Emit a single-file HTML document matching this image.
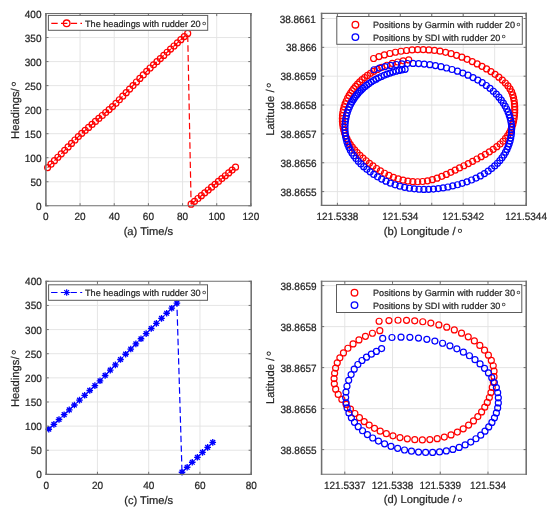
<!DOCTYPE html>
<html><head><meta charset="utf-8"><title>Headings and positions</title>
<style>
html,body{margin:0;padding:0;background:#fff;width:550px;height:512px;overflow:hidden}
svg{display:block}
text{font-family:"Liberation Sans",Arial,Helvetica,sans-serif;fill:#262626;stroke:#262626;stroke-width:0.22px;text-rendering:geometricPrecision}
</style></head><body>
<svg width="550" height="512" viewBox="0 0 550 512">
<rect width="550" height="512" fill="#fff"/>
<path d="M80.07 13.5V205.8M114.23 13.5V205.8M148.4 13.5V205.8M182.57 13.5V205.8M216.73 13.5V205.8M45.9 181.76H250.9M45.9 157.73H250.9M45.9 133.69H250.9M45.9 109.65H250.9M45.9 85.61H250.9M45.9 61.58H250.9M45.9 37.54H250.9" stroke="#e2e2e2" stroke-width="0.9" fill="none"/>
<path d="M47.61 167.58 L51.02 164.13 L54.44 160.69 L57.86 157.24 L61.27 153.8 L64.69 150.35 L68.11 146.9 L71.53 143.46 L74.94 140.01 L78.36 136.56 L81.78 133.35 L85.19 130.38 L88.61 127.4 L92.03 124.43 L95.44 121.45 L98.86 118.47 L102.28 115.5 L105.69 112.52 L109.11 109.55 L112.53 106.57 L115.94 103.31 L119.36 99.75 L122.78 96.2 L126.19 92.65 L129.61 89.1 L133.03 85.54 L136.44 81.99 L139.86 78.44 L143.28 74.88 L146.69 71.33 L150.11 67.98 L153.53 64.84 L156.94 61.7 L160.36 58.55 L163.78 55.41 L167.19 52.27 L170.61 49.12 L174.03 45.98 L177.44 42.83 L180.86 39.69 L184.28 36.55 L187.69 33.4" stroke="#ff0000" stroke-width="1.2" stroke-dasharray="6.4 3.3" stroke-dashoffset="0" fill="none"/>
<path d="M187.69 33.4 L191.11 204.21" stroke="#ff0000" stroke-width="1.2" stroke-dasharray="6.4 3.3" stroke-dashoffset="7.5" fill="none"/>
<path d="M191.11 204.21 L194.53 201.37 L197.94 198.52 L201.36 195.67 L204.78 192.82 L208.19 189.98 L211.61 187.13 L215.03 184.28 L218.44 181.43 L221.86 178.59 L225.28 175.74 L228.69 172.89 L232.11 170.04 L235.53 167.2" stroke="#ff0000" stroke-width="1.2" stroke-dasharray="6.4 3.3" stroke-dashoffset="0" fill="none"/>
<g fill="none" stroke="#ff0000" stroke-width="1.2"><circle cx="47.61" cy="167.58" r="3.0"/><circle cx="51.02" cy="164.13" r="3.0"/><circle cx="54.44" cy="160.69" r="3.0"/><circle cx="57.86" cy="157.24" r="3.0"/><circle cx="61.27" cy="153.8" r="3.0"/><circle cx="64.69" cy="150.35" r="3.0"/><circle cx="68.11" cy="146.9" r="3.0"/><circle cx="71.53" cy="143.46" r="3.0"/><circle cx="74.94" cy="140.01" r="3.0"/><circle cx="78.36" cy="136.56" r="3.0"/><circle cx="81.78" cy="133.35" r="3.0"/><circle cx="85.19" cy="130.38" r="3.0"/><circle cx="88.61" cy="127.4" r="3.0"/><circle cx="92.03" cy="124.43" r="3.0"/><circle cx="95.44" cy="121.45" r="3.0"/><circle cx="98.86" cy="118.47" r="3.0"/><circle cx="102.28" cy="115.5" r="3.0"/><circle cx="105.69" cy="112.52" r="3.0"/><circle cx="109.11" cy="109.55" r="3.0"/><circle cx="112.53" cy="106.57" r="3.0"/><circle cx="115.94" cy="103.31" r="3.0"/><circle cx="119.36" cy="99.75" r="3.0"/><circle cx="122.78" cy="96.2" r="3.0"/><circle cx="126.19" cy="92.65" r="3.0"/><circle cx="129.61" cy="89.1" r="3.0"/><circle cx="133.03" cy="85.54" r="3.0"/><circle cx="136.44" cy="81.99" r="3.0"/><circle cx="139.86" cy="78.44" r="3.0"/><circle cx="143.28" cy="74.88" r="3.0"/><circle cx="146.69" cy="71.33" r="3.0"/><circle cx="150.11" cy="67.98" r="3.0"/><circle cx="153.53" cy="64.84" r="3.0"/><circle cx="156.94" cy="61.7" r="3.0"/><circle cx="160.36" cy="58.55" r="3.0"/><circle cx="163.78" cy="55.41" r="3.0"/><circle cx="167.19" cy="52.27" r="3.0"/><circle cx="170.61" cy="49.12" r="3.0"/><circle cx="174.03" cy="45.98" r="3.0"/><circle cx="177.44" cy="42.83" r="3.0"/><circle cx="180.86" cy="39.69" r="3.0"/><circle cx="184.28" cy="36.55" r="3.0"/><circle cx="187.69" cy="33.4" r="3.0"/><circle cx="191.11" cy="204.21" r="3.0"/><circle cx="194.53" cy="201.37" r="3.0"/><circle cx="197.94" cy="198.52" r="3.0"/><circle cx="201.36" cy="195.67" r="3.0"/><circle cx="204.78" cy="192.82" r="3.0"/><circle cx="208.19" cy="189.98" r="3.0"/><circle cx="211.61" cy="187.13" r="3.0"/><circle cx="215.03" cy="184.28" r="3.0"/><circle cx="218.44" cy="181.43" r="3.0"/><circle cx="221.86" cy="178.59" r="3.0"/><circle cx="225.28" cy="175.74" r="3.0"/><circle cx="228.69" cy="172.89" r="3.0"/><circle cx="232.11" cy="170.04" r="3.0"/><circle cx="235.53" cy="167.2" r="3.0"/></g>
<path d="M45.9 205.8v-2.6M45.9 13.5v2.6M80.07 205.8v-2.6M80.07 13.5v2.6M114.23 205.8v-2.6M114.23 13.5v2.6M148.4 205.8v-2.6M148.4 13.5v2.6M182.57 205.8v-2.6M182.57 13.5v2.6M216.73 205.8v-2.6M216.73 13.5v2.6M250.9 205.8v-2.6M250.9 13.5v2.6M45.9 205.8h2.6M250.9 205.8h-2.6M45.9 181.76h2.6M250.9 181.76h-2.6M45.9 157.73h2.6M250.9 157.73h-2.6M45.9 133.69h2.6M250.9 133.69h-2.6M45.9 109.65h2.6M250.9 109.65h-2.6M45.9 85.61h2.6M250.9 85.61h-2.6M45.9 61.58h2.6M250.9 61.58h-2.6M45.9 37.54h2.6M250.9 37.54h-2.6M45.9 13.5h2.6M250.9 13.5h-2.6" stroke="#6f6f6f" stroke-width="1" fill="none"/>
<path d="M45.12 13.5H251.68M45.12 205.8H251.68" stroke="#6f6f6f" stroke-width="1.1" fill="none"/><path d="M45.9 12.95V206.35M250.9 12.95V206.35" stroke="#6f6f6f" stroke-width="1.55" fill="none"/>
<text transform="translate(45.9 220.4) scale(1 1.05)" text-anchor="middle" font-size="10">0</text>
<text transform="translate(80.07 220.4) scale(1 1.05)" text-anchor="middle" font-size="10">20</text>
<text transform="translate(114.23 220.4) scale(1 1.05)" text-anchor="middle" font-size="10">40</text>
<text transform="translate(148.4 220.4) scale(1 1.05)" text-anchor="middle" font-size="10">60</text>
<text transform="translate(182.57 220.4) scale(1 1.05)" text-anchor="middle" font-size="10">80</text>
<text transform="translate(216.73 220.4) scale(1 1.05)" text-anchor="middle" font-size="10">100</text>
<text transform="translate(250.9 220.4) scale(1 1.05)" text-anchor="middle" font-size="10">120</text>
<text transform="translate(41.5 209.8) scale(1 1.05)" text-anchor="end" font-size="10">0</text>
<text transform="translate(41.5 185.76) scale(1 1.05)" text-anchor="end" font-size="10">50</text>
<text transform="translate(41.5 161.73) scale(1 1.05)" text-anchor="end" font-size="10">100</text>
<text transform="translate(41.5 137.69) scale(1 1.05)" text-anchor="end" font-size="10">150</text>
<text transform="translate(41.5 113.65) scale(1 1.05)" text-anchor="end" font-size="10">200</text>
<text transform="translate(41.5 89.61) scale(1 1.05)" text-anchor="end" font-size="10">250</text>
<text transform="translate(41.5 65.58) scale(1 1.05)" text-anchor="end" font-size="10">300</text>
<text transform="translate(41.5 41.54) scale(1 1.05)" text-anchor="end" font-size="10">350</text>
<text transform="translate(41.5 17.5) scale(1 1.05)" text-anchor="end" font-size="10">400</text>
<text x="148.4" y="234.9" text-anchor="middle" font-size="11.15">(a) Time/s</text>
<text transform="translate(18.6 109.35) rotate(-90)" text-anchor="middle" font-size="11.25">Headings/<tspan font-family="DejaVu Sans" font-size="13.5" dy="-0.67" stroke="none">&#8728;</tspan></text>
<path d="M97.45 281.3V474.4M148.7 281.3V474.4M199.95 281.3V474.4M46.2 450.26H251.2M46.2 426.12H251.2M46.2 401.99H251.2M46.2 377.85H251.2M46.2 353.71H251.2M46.2 329.57H251.2M46.2 305.44H251.2" stroke="#e2e2e2" stroke-width="0.9" fill="none"/>
<path d="M48.76 429.2 L53.89 424.36 L59.01 419.52 L64.14 414.68 L69.26 409.84 L74.39 405 L79.51 400.16 L84.64 395.32 L89.76 390.48 L94.89 385.64 L100.01 380.8 L105.14 375.48 L110.26 370.16 L115.39 364.84 L120.51 359.52 L125.64 354.2 L130.76 349.06 L135.89 343.92 L141.01 338.78 L146.14 333.64 L151.26 328.5 L156.39 323.42 L161.51 318.34 L166.64 313.26 L171.76 308.18 L176.89 303.1" stroke="#0000ff" stroke-width="1.2" stroke-dasharray="6.4 3.3" stroke-dashoffset="0" fill="none"/>
<path d="M176.89 303.1 L182.01 472.2" stroke="#0000ff" stroke-width="1.2" stroke-dasharray="6.4 3.3" stroke-dashoffset="3.1" fill="none"/>
<path d="M182.01 472.2 L187.14 467.23 L192.26 462.27 L197.39 457.3 L202.51 452.33 L207.64 447.37 L212.76 442.4" stroke="#0000ff" stroke-width="1.2" stroke-dasharray="6.4 3.3" stroke-dashoffset="0" fill="none"/>
<path d="M45.46 429.2h6.6M48.76 425.9v6.6M46.39 426.82l4.75 4.75M46.39 431.58l4.75 -4.75M50.59 424.36h6.6M53.89 421.06v6.6M51.51 421.98l4.75 4.75M51.51 426.74l4.75 -4.75M55.71 419.52h6.6M59.01 416.22v6.6M56.64 417.14l4.75 4.75M56.64 421.9l4.75 -4.75M60.84 414.68h6.6M64.14 411.38v6.6M61.76 412.3l4.75 4.75M61.76 417.06l4.75 -4.75M65.96 409.84h6.6M69.26 406.54v6.6M66.89 407.46l4.75 4.75M66.89 412.22l4.75 -4.75M71.09 405h6.6M74.39 401.7v6.6M72.01 402.62l4.75 4.75M72.01 407.38l4.75 -4.75M76.21 400.16h6.6M79.51 396.86v6.6M77.14 397.78l4.75 4.75M77.14 402.54l4.75 -4.75M81.34 395.32h6.6M84.64 392.02v6.6M82.26 392.94l4.75 4.75M82.26 397.7l4.75 -4.75M86.46 390.48h6.6M89.76 387.18v6.6M87.39 388.1l4.75 4.75M87.39 392.86l4.75 -4.75M91.59 385.64h6.6M94.89 382.34v6.6M92.51 383.26l4.75 4.75M92.51 388.02l4.75 -4.75M96.71 380.8h6.6M100.01 377.5v6.6M97.64 378.42l4.75 4.75M97.64 383.18l4.75 -4.75M101.84 375.48h6.6M105.14 372.18v6.6M102.76 373.1l4.75 4.75M102.76 377.86l4.75 -4.75M106.96 370.16h6.6M110.26 366.86v6.6M107.89 367.78l4.75 4.75M107.89 372.54l4.75 -4.75M112.09 364.84h6.6M115.39 361.54v6.6M113.01 362.46l4.75 4.75M113.01 367.22l4.75 -4.75M117.21 359.52h6.6M120.51 356.22v6.6M118.14 357.14l4.75 4.75M118.14 361.9l4.75 -4.75M122.34 354.2h6.6M125.64 350.9v6.6M123.26 351.82l4.75 4.75M123.26 356.58l4.75 -4.75M127.46 349.06h6.6M130.76 345.76v6.6M128.39 346.68l4.75 4.75M128.39 351.44l4.75 -4.75M132.59 343.92h6.6M135.89 340.62v6.6M133.51 341.54l4.75 4.75M133.51 346.3l4.75 -4.75M137.71 338.78h6.6M141.01 335.48v6.6M138.64 336.4l4.75 4.75M138.64 341.16l4.75 -4.75M142.84 333.64h6.6M146.14 330.34v6.6M143.76 331.26l4.75 4.75M143.76 336.02l4.75 -4.75M147.96 328.5h6.6M151.26 325.2v6.6M148.89 326.12l4.75 4.75M148.89 330.88l4.75 -4.75M153.09 323.42h6.6M156.39 320.12v6.6M154.01 321.04l4.75 4.75M154.01 325.8l4.75 -4.75M158.21 318.34h6.6M161.51 315.04v6.6M159.14 315.96l4.75 4.75M159.14 320.72l4.75 -4.75M163.34 313.26h6.6M166.64 309.96v6.6M164.26 310.88l4.75 4.75M164.26 315.64l4.75 -4.75M168.46 308.18h6.6M171.76 304.88v6.6M169.39 305.8l4.75 4.75M169.39 310.56l4.75 -4.75M173.59 303.1h6.6M176.89 299.8v6.6M174.51 300.72l4.75 4.75M174.51 305.48l4.75 -4.75M178.71 472.2h6.6M182.01 468.9v6.6M179.64 469.82l4.75 4.75M179.64 474.58l4.75 -4.75M183.84 467.23h6.6M187.14 463.93v6.6M184.76 464.86l4.75 4.75M184.76 469.61l4.75 -4.75M188.96 462.27h6.6M192.26 458.97v6.6M189.89 459.89l4.75 4.75M189.89 464.64l4.75 -4.75M194.09 457.3h6.6M197.39 454v6.6M195.01 454.92l4.75 4.75M195.01 459.68l4.75 -4.75M199.21 452.33h6.6M202.51 449.03v6.6M200.14 449.96l4.75 4.75M200.14 454.71l4.75 -4.75M204.34 447.37h6.6M207.64 444.07v6.6M205.26 444.99l4.75 4.75M205.26 449.74l4.75 -4.75M209.46 442.4h6.6M212.76 439.1v6.6M210.39 440.02l4.75 4.75M210.39 444.78l4.75 -4.75" stroke="#0000ff" stroke-width="1.35" fill="none"/>
<path d="M46.2 474.4v-2.6M46.2 281.3v2.6M97.45 474.4v-2.6M97.45 281.3v2.6M148.7 474.4v-2.6M148.7 281.3v2.6M199.95 474.4v-2.6M199.95 281.3v2.6M251.2 474.4v-2.6M251.2 281.3v2.6M46.2 474.4h2.6M251.2 474.4h-2.6M46.2 450.26h2.6M251.2 450.26h-2.6M46.2 426.12h2.6M251.2 426.12h-2.6M46.2 401.99h2.6M251.2 401.99h-2.6M46.2 377.85h2.6M251.2 377.85h-2.6M46.2 353.71h2.6M251.2 353.71h-2.6M46.2 329.57h2.6M251.2 329.57h-2.6M46.2 305.44h2.6M251.2 305.44h-2.6M46.2 281.3h2.6M251.2 281.3h-2.6" stroke="#6f6f6f" stroke-width="1" fill="none"/>
<path d="M45.43 281.3H251.97M45.43 474.4H251.97" stroke="#6f6f6f" stroke-width="1.1" fill="none"/><path d="M46.2 280.75V474.95M251.2 280.75V474.95" stroke="#6f6f6f" stroke-width="1.55" fill="none"/>
<text transform="translate(46.2 489) scale(1 1.05)" text-anchor="middle" font-size="10">0</text>
<text transform="translate(97.45 489) scale(1 1.05)" text-anchor="middle" font-size="10">20</text>
<text transform="translate(148.7 489) scale(1 1.05)" text-anchor="middle" font-size="10">40</text>
<text transform="translate(199.95 489) scale(1 1.05)" text-anchor="middle" font-size="10">60</text>
<text transform="translate(251.2 489) scale(1 1.05)" text-anchor="middle" font-size="10">80</text>
<text transform="translate(41.8 478.4) scale(1 1.05)" text-anchor="end" font-size="10">0</text>
<text transform="translate(41.8 454.26) scale(1 1.05)" text-anchor="end" font-size="10">50</text>
<text transform="translate(41.8 430.12) scale(1 1.05)" text-anchor="end" font-size="10">100</text>
<text transform="translate(41.8 405.99) scale(1 1.05)" text-anchor="end" font-size="10">150</text>
<text transform="translate(41.8 381.85) scale(1 1.05)" text-anchor="end" font-size="10">200</text>
<text transform="translate(41.8 357.71) scale(1 1.05)" text-anchor="end" font-size="10">250</text>
<text transform="translate(41.8 333.57) scale(1 1.05)" text-anchor="end" font-size="10">300</text>
<text transform="translate(41.8 309.44) scale(1 1.05)" text-anchor="end" font-size="10">350</text>
<text transform="translate(41.8 285.3) scale(1 1.05)" text-anchor="end" font-size="10">400</text>
<text x="148.7" y="503.5" text-anchor="middle" font-size="11.15">(c) Time/s</text>
<text transform="translate(18.6 377.55) rotate(-90)" text-anchor="middle" font-size="11.25">Headings/<tspan font-family="DejaVu Sans" font-size="13.5" dy="-0.67" stroke="none">&#8728;</tspan></text>
<path d="M337.4 13.4V205.4M368.85 13.4V205.4M400.3 13.4V205.4M431.75 13.4V205.4M463.2 13.4V205.4M494.65 13.4V205.4M321.6 191.6H526.2M321.6 162.75H526.2M321.6 133.9H526.2M321.6 105.05H526.2M321.6 76.2H526.2M321.6 47.35H526.2M321.6 18.5H526.2" stroke="#e2e2e2" stroke-width="0.9" fill="none"/>
<g fill="none" stroke="#ff0000" stroke-width="1.2"><circle cx="373.6" cy="58.51" r="3.0"/><circle cx="378.93" cy="56.62" r="3.0"/><circle cx="384.36" cy="54.94" r="3.0"/><circle cx="389.86" cy="53.48" r="3.0"/><circle cx="395.39" cy="52.24" r="3.0"/><circle cx="400.95" cy="51.25" r="3.0"/><circle cx="406.53" cy="50.49" r="3.0"/><circle cx="412.11" cy="49.97" r="3.0"/><circle cx="417.7" cy="49.7" r="3.0"/><circle cx="423.29" cy="49.68" r="3.0"/><circle cx="428.87" cy="49.92" r="3.0"/><circle cx="434.46" cy="50.43" r="3.0"/><circle cx="440.04" cy="51.22" r="3.0"/><circle cx="445.59" cy="52.31" r="3.0"/><circle cx="451.11" cy="53.68" r="3.0"/><circle cx="456.55" cy="55.33" r="3.0"/><circle cx="461.9" cy="57.21" r="3.0"/><circle cx="467.13" cy="59.29" r="3.0"/><circle cx="472.22" cy="61.53" r="3.0"/><circle cx="477.16" cy="63.9" r="3.0"/><circle cx="481.96" cy="66.37" r="3.0"/><circle cx="486.57" cy="68.94" r="3.0"/><circle cx="490.96" cy="71.6" r="3.0"/><circle cx="495.06" cy="74.36" r="3.0"/><circle cx="498.85" cy="77.19" r="3.0"/><circle cx="502.29" cy="80.08" r="3.0"/><circle cx="505.34" cy="83.01" r="3.0"/><circle cx="507.93" cy="85.97" r="3.0"/><circle cx="510" cy="88.95" r="3.0"/><circle cx="511.59" cy="91.93" r="3.0"/><circle cx="512.73" cy="94.9" r="3.0"/><circle cx="513.54" cy="97.87" r="3.0"/><circle cx="514.1" cy="100.83" r="3.0"/><circle cx="514.46" cy="103.78" r="3.0"/><circle cx="514.67" cy="106.72" r="3.0"/><circle cx="514.73" cy="109.65" r="3.0"/><circle cx="514.66" cy="112.58" r="3.0"/><circle cx="514.44" cy="115.49" r="3.0"/><circle cx="514.08" cy="118.4" r="3.0"/><circle cx="513.55" cy="121.3" r="3.0"/><circle cx="512.85" cy="124.19" r="3.0"/><circle cx="511.95" cy="127.07" r="3.0"/><circle cx="510.81" cy="129.94" r="3.0"/><circle cx="509.41" cy="132.8" r="3.0"/><circle cx="507.67" cy="135.65" r="3.0"/><circle cx="505.56" cy="138.47" r="3.0"/><circle cx="503.04" cy="141.27" r="3.0"/><circle cx="500.13" cy="144.02" r="3.0"/><circle cx="496.84" cy="146.71" r="3.0"/><circle cx="493.22" cy="149.32" r="3.0"/><circle cx="489.35" cy="151.85" r="3.0"/><circle cx="485.31" cy="154.3" r="3.0"/><circle cx="481.16" cy="156.69" r="3.0"/><circle cx="476.92" cy="159.02" r="3.0"/><circle cx="472.62" cy="161.3" r="3.0"/><circle cx="468.28" cy="163.55" r="3.0"/><circle cx="463.91" cy="165.76" r="3.0"/><circle cx="459.53" cy="167.95" r="3.0"/><circle cx="455.16" cy="170.13" r="3.0"/><circle cx="450.78" cy="172.29" r="3.0"/><circle cx="446.33" cy="174.39" r="3.0"/><circle cx="441.79" cy="176.36" r="3.0"/><circle cx="437.12" cy="178.15" r="3.0"/><circle cx="432.34" cy="179.66" r="3.0"/><circle cx="427.48" cy="180.8" r="3.0"/><circle cx="422.59" cy="181.5" r="3.0"/><circle cx="417.7" cy="181.77" r="3.0"/><circle cx="412.81" cy="181.63" r="3.0"/><circle cx="407.93" cy="181.11" r="3.0"/><circle cx="403.05" cy="180.22" r="3.0"/><circle cx="398.2" cy="178.97" r="3.0"/><circle cx="393.46" cy="177.35" r="3.0"/><circle cx="388.88" cy="175.43" r="3.0"/><circle cx="384.53" cy="173.27" r="3.0"/><circle cx="380.43" cy="170.93" r="3.0"/><circle cx="376.57" cy="168.48" r="3.0"/><circle cx="372.92" cy="165.95" r="3.0"/><circle cx="369.45" cy="163.36" r="3.0"/><circle cx="366.12" cy="160.73" r="3.0"/><circle cx="362.94" cy="158.07" r="3.0"/><circle cx="359.93" cy="155.38" r="3.0"/><circle cx="357.13" cy="152.65" r="3.0"/><circle cx="354.57" cy="149.89" r="3.0"/><circle cx="352.25" cy="147.11" r="3.0"/><circle cx="350.2" cy="144.31" r="3.0"/><circle cx="348.42" cy="141.49" r="3.0"/><circle cx="346.9" cy="138.65" r="3.0"/><circle cx="345.62" cy="135.81" r="3.0"/><circle cx="344.57" cy="132.95" r="3.0"/><circle cx="343.74" cy="130.09" r="3.0"/><circle cx="343.1" cy="127.22" r="3.0"/><circle cx="342.66" cy="124.34" r="3.0"/><circle cx="342.41" cy="121.45" r="3.0"/><circle cx="342.35" cy="118.55" r="3.0"/><circle cx="342.49" cy="115.64" r="3.0"/><circle cx="342.83" cy="112.73" r="3.0"/><circle cx="343.38" cy="109.81" r="3.0"/><circle cx="344.14" cy="106.87" r="3.0"/><circle cx="345.11" cy="103.93" r="3.0"/><circle cx="346.3" cy="100.99" r="3.0"/><circle cx="347.67" cy="98.09" r="3.0"/><circle cx="349.12" cy="95.43" r="3.0"/><circle cx="350.6" cy="93.01" r="3.0"/><circle cx="352.12" cy="90.76" r="3.0"/><circle cx="353.77" cy="88.54" r="3.0"/><circle cx="355.57" cy="86.31" r="3.0"/><circle cx="357.55" cy="84.1" r="3.0"/><circle cx="359.71" cy="81.89" r="3.0"/><circle cx="362.08" cy="79.7" r="3.0"/><circle cx="364.66" cy="77.53" r="3.0"/><circle cx="367.47" cy="75.4" r="3.0"/><circle cx="370.51" cy="73.32" r="3.0"/><circle cx="373.79" cy="71.33" r="3.0"/><circle cx="377.33" cy="69.41" r="3.0"/><circle cx="381.75" cy="67.32" r="3.0"/><circle cx="386.92" cy="65.25" r="3.0"/><circle cx="392.26" cy="63.47" r="3.0"/><circle cx="397.71" cy="62" r="3.0"/><circle cx="403.2" cy="60.81" r="3.0"/><circle cx="408.72" cy="59.91" r="3.0"/></g>
<g fill="none" stroke="#0000ff" stroke-width="1.2"><circle cx="374.05" cy="69.77" r="3.0"/><circle cx="379.49" cy="68.05" r="3.0"/><circle cx="385.01" cy="66.58" r="3.0"/><circle cx="390.58" cy="65.4" r="3.0"/><circle cx="396.17" cy="64.49" r="3.0"/><circle cx="401.78" cy="63.87" r="3.0"/><circle cx="407.39" cy="63.52" r="3.0"/><circle cx="413" cy="63.44" r="3.0"/><circle cx="418.61" cy="63.62" r="3.0"/><circle cx="424.22" cy="64.05" r="3.0"/><circle cx="429.82" cy="64.71" r="3.0"/><circle cx="435.42" cy="65.6" r="3.0"/><circle cx="440.99" cy="66.71" r="3.0"/><circle cx="446.54" cy="68.01" r="3.0"/><circle cx="452.04" cy="69.5" r="3.0"/><circle cx="457.48" cy="71.19" r="3.0"/><circle cx="462.83" cy="73.09" r="3.0"/><circle cx="468.03" cy="75.21" r="3.0"/><circle cx="473.04" cy="77.53" r="3.0"/><circle cx="477.79" cy="80.04" r="3.0"/><circle cx="482.21" cy="82.71" r="3.0"/><circle cx="486.28" cy="85.49" r="3.0"/><circle cx="489.98" cy="88.35" r="3.0"/><circle cx="493.3" cy="91.26" r="3.0"/><circle cx="496.27" cy="94.2" r="3.0"/><circle cx="498.91" cy="97.17" r="3.0"/><circle cx="501.25" cy="100.13" r="3.0"/><circle cx="503.32" cy="103.1" r="3.0"/><circle cx="505.13" cy="106.06" r="3.0"/><circle cx="506.7" cy="109.02" r="3.0"/><circle cx="508.05" cy="111.97" r="3.0"/><circle cx="509.17" cy="114.9" r="3.0"/><circle cx="510.08" cy="117.83" r="3.0"/><circle cx="510.78" cy="120.75" r="3.0"/><circle cx="511.27" cy="123.66" r="3.0"/><circle cx="511.55" cy="126.56" r="3.0"/><circle cx="511.62" cy="129.45" r="3.0"/><circle cx="511.5" cy="132.33" r="3.0"/><circle cx="511.19" cy="135.2" r="3.0"/><circle cx="510.69" cy="138.06" r="3.0"/><circle cx="510.03" cy="140.91" r="3.0"/><circle cx="509.18" cy="143.74" r="3.0"/><circle cx="508.16" cy="146.57" r="3.0"/><circle cx="506.94" cy="149.39" r="3.0"/><circle cx="505.53" cy="152.19" r="3.0"/><circle cx="503.9" cy="154.98" r="3.0"/><circle cx="502.02" cy="157.75" r="3.0"/><circle cx="499.88" cy="160.51" r="3.0"/><circle cx="497.44" cy="163.24" r="3.0"/><circle cx="494.69" cy="165.93" r="3.0"/><circle cx="491.6" cy="168.56" r="3.0"/><circle cx="488.17" cy="171.13" r="3.0"/><circle cx="484.42" cy="173.58" r="3.0"/><circle cx="480.36" cy="175.9" r="3.0"/><circle cx="476.05" cy="178.06" r="3.0"/><circle cx="471.56" cy="180.02" r="3.0"/><circle cx="466.94" cy="181.79" r="3.0"/><circle cx="462.24" cy="183.36" r="3.0"/><circle cx="457.49" cy="184.75" r="3.0"/><circle cx="452.71" cy="185.97" r="3.0"/><circle cx="447.91" cy="187.01" r="3.0"/><circle cx="443.11" cy="187.88" r="3.0"/><circle cx="438.3" cy="188.56" r="3.0"/><circle cx="433.49" cy="189.04" r="3.0"/><circle cx="428.68" cy="189.32" r="3.0"/><circle cx="423.87" cy="189.39" r="3.0"/><circle cx="419.06" cy="189.24" r="3.0"/><circle cx="414.25" cy="188.86" r="3.0"/><circle cx="409.44" cy="188.24" r="3.0"/><circle cx="404.64" cy="187.37" r="3.0"/><circle cx="399.86" cy="186.22" r="3.0"/><circle cx="395.13" cy="184.81" r="3.0"/><circle cx="390.48" cy="183.13" r="3.0"/><circle cx="385.98" cy="181.21" r="3.0"/><circle cx="381.67" cy="179.08" r="3.0"/><circle cx="377.59" cy="176.79" r="3.0"/><circle cx="373.75" cy="174.38" r="3.0"/><circle cx="370.17" cy="171.87" r="3.0"/><circle cx="366.84" cy="169.29" r="3.0"/><circle cx="363.76" cy="166.65" r="3.0"/><circle cx="360.91" cy="163.97" r="3.0"/><circle cx="358.32" cy="161.26" r="3.0"/><circle cx="355.96" cy="158.52" r="3.0"/><circle cx="353.85" cy="155.76" r="3.0"/><circle cx="351.99" cy="152.98" r="3.0"/><circle cx="350.36" cy="150.18" r="3.0"/><circle cx="348.97" cy="147.37" r="3.0"/><circle cx="347.81" cy="144.54" r="3.0"/><circle cx="346.87" cy="141.71" r="3.0"/><circle cx="346.13" cy="138.86" r="3.0"/><circle cx="345.57" cy="136.01" r="3.0"/><circle cx="345.2" cy="133.14" r="3.0"/><circle cx="344.99" cy="130.27" r="3.0"/><circle cx="344.95" cy="127.38" r="3.0"/><circle cx="345.07" cy="124.49" r="3.0"/><circle cx="345.36" cy="121.58" r="3.0"/><circle cx="345.81" cy="118.66" r="3.0"/><circle cx="346.43" cy="115.73" r="3.0"/><circle cx="347.23" cy="112.8" r="3.0"/><circle cx="348.22" cy="109.85" r="3.0"/><circle cx="349.39" cy="106.92" r="3.0"/><circle cx="350.63" cy="104.28" r="3.0"/><circle cx="351.87" cy="101.96" r="3.0"/><circle cx="353.08" cy="99.93" r="3.0"/><circle cx="354.25" cy="98.16" r="3.0"/><circle cx="355.42" cy="96.52" r="3.0"/><circle cx="356.7" cy="94.88" r="3.0"/><circle cx="358.08" cy="93.24" r="3.0"/><circle cx="359.57" cy="91.61" r="3.0"/><circle cx="361.19" cy="89.99" r="3.0"/><circle cx="362.92" cy="88.37" r="3.0"/><circle cx="364.78" cy="86.77" r="3.0"/><circle cx="366.77" cy="85.18" r="3.0"/><circle cx="368.89" cy="83.62" r="3.0"/><circle cx="371.15" cy="82.09" r="3.0"/><circle cx="373.53" cy="80.61" r="3.0"/><circle cx="376.03" cy="79.17" r="3.0"/><circle cx="378.65" cy="77.79" r="3.0"/><circle cx="381.36" cy="76.48" r="3.0"/><circle cx="384.16" cy="75.25" r="3.0"/><circle cx="387.04" cy="74.1" r="3.0"/><circle cx="389.97" cy="73.05" r="3.0"/><circle cx="392.95" cy="72.1" r="3.0"/><circle cx="395.96" cy="71.26" r="3.0"/><circle cx="398.99" cy="70.51" r="3.0"/><circle cx="402.04" cy="69.88" r="3.0"/><circle cx="405.1" cy="69.37" r="3.0"/></g>
<path d="M337.4 205.4v-2.6M337.4 13.4v2.6M368.85 205.4v-2.6M368.85 13.4v2.6M400.3 205.4v-2.6M400.3 13.4v2.6M431.75 205.4v-2.6M431.75 13.4v2.6M463.2 205.4v-2.6M463.2 13.4v2.6M494.65 205.4v-2.6M494.65 13.4v2.6M526.1 205.4v-2.6M526.1 13.4v2.6M321.6 191.6h2.6M526.2 191.6h-2.6M321.6 162.75h2.6M526.2 162.75h-2.6M321.6 133.9h2.6M526.2 133.9h-2.6M321.6 105.05h2.6M526.2 105.05h-2.6M321.6 76.2h2.6M526.2 76.2h-2.6M321.6 47.35h2.6M526.2 47.35h-2.6M321.6 18.5h2.6M526.2 18.5h-2.6" stroke="#6f6f6f" stroke-width="1" fill="none"/>
<path d="M320.83 13.4H526.98M320.83 205.4H526.98" stroke="#6f6f6f" stroke-width="1.1" fill="none"/><path d="M321.6 12.85V205.95M526.2 12.85V205.95" stroke="#6f6f6f" stroke-width="1.55" fill="none"/>
<text transform="translate(337.4 220) scale(1 1.05)" text-anchor="middle" font-size="10">121.5338</text>
<text transform="translate(400.3 220) scale(1 1.05)" text-anchor="middle" font-size="10">121.534</text>
<text transform="translate(463.2 220) scale(1 1.05)" text-anchor="middle" font-size="10">121.5342</text>
<text transform="translate(526.1 220) scale(1 1.05)" text-anchor="middle" font-size="10">121.5344</text>
<text transform="translate(316.6 195.6) scale(1 1.05)" text-anchor="end" font-size="10">38.8655</text>
<text transform="translate(316.6 166.75) scale(1 1.05)" text-anchor="end" font-size="10">38.8656</text>
<text transform="translate(316.6 137.9) scale(1 1.05)" text-anchor="end" font-size="10">38.8657</text>
<text transform="translate(316.6 109.05) scale(1 1.05)" text-anchor="end" font-size="10">38.8658</text>
<text transform="translate(316.6 80.2) scale(1 1.05)" text-anchor="end" font-size="10">38.8659</text>
<text transform="translate(316.6 51.35) scale(1 1.05)" text-anchor="end" font-size="10">38.866</text>
<text transform="translate(315.8 22.5) scale(1 1.05)" text-anchor="end" font-size="10">38.8661</text>
<text x="423.9" y="234.5" text-anchor="middle" font-size="11.15">(b) Longitude /<tspan font-family="DejaVu Sans" font-size="13.38" dy="0.33" stroke="none">&#8728;</tspan></text>
<text transform="translate(273.6 108.4) rotate(-90)" text-anchor="middle" font-size="11.25">Latitude /<tspan font-family="DejaVu Sans" font-size="13.5" dy="-0.67" stroke="none">&#8728;</tspan></text>
<path d="M344.8 281.2V474.2M392.53 281.2V474.2M440.26 281.2V474.2M487.99 281.2V474.2M321.6 449.6H526.2M321.6 408.6H526.2M321.6 367.6H526.2M321.6 326.6H526.2M321.6 285.6H526.2" stroke="#e2e2e2" stroke-width="0.9" fill="none"/>
<g fill="none" stroke="#ff0000" stroke-width="1.2"><circle cx="379.11" cy="321.26" r="3.0"/><circle cx="388.94" cy="320.58" r="3.0"/><circle cx="398.02" cy="320.27" r="3.0"/><circle cx="406.54" cy="320.35" r="3.0"/><circle cx="414.72" cy="320.84" r="3.0"/><circle cx="422.77" cy="321.75" r="3.0"/><circle cx="430.84" cy="323.09" r="3.0"/><circle cx="438.87" cy="324.89" r="3.0"/><circle cx="446.74" cy="327.16" r="3.0"/><circle cx="454.32" cy="329.91" r="3.0"/><circle cx="461.52" cy="333.16" r="3.0"/><circle cx="468.23" cy="336.87" r="3.0"/><circle cx="474.36" cy="340.97" r="3.0"/><circle cx="479.82" cy="345.43" r="3.0"/><circle cx="484.53" cy="350.18" r="3.0"/><circle cx="488.39" cy="355.19" r="3.0"/><circle cx="491.32" cy="360.39" r="3.0"/><circle cx="493.22" cy="365.74" r="3.0"/><circle cx="494.06" cy="371.18" r="3.0"/><circle cx="494.03" cy="376.65" r="3.0"/><circle cx="493.35" cy="382.07" r="3.0"/><circle cx="492.26" cy="387.38" r="3.0"/><circle cx="490.93" cy="392.53" r="3.0"/><circle cx="489.32" cy="397.52" r="3.0"/><circle cx="487.3" cy="402.41" r="3.0"/><circle cx="484.76" cy="407.2" r="3.0"/><circle cx="481.6" cy="411.94" r="3.0"/><circle cx="477.83" cy="416.54" r="3.0"/><circle cx="473.49" cy="420.94" r="3.0"/><circle cx="468.61" cy="425.05" r="3.0"/><circle cx="463.21" cy="428.8" r="3.0"/><circle cx="457.35" cy="432.11" r="3.0"/><circle cx="451.03" cy="434.91" r="3.0"/><circle cx="444.31" cy="437.11" r="3.0"/><circle cx="437.22" cy="438.66" r="3.0"/><circle cx="429.86" cy="439.57" r="3.0"/><circle cx="422.35" cy="439.88" r="3.0"/><circle cx="414.79" cy="439.63" r="3.0"/><circle cx="407.3" cy="438.85" r="3.0"/><circle cx="399.98" cy="437.58" r="3.0"/><circle cx="392.95" cy="435.86" r="3.0"/><circle cx="386.33" cy="433.72" r="3.0"/><circle cx="380.18" cy="431.2" r="3.0"/><circle cx="374.48" cy="428.31" r="3.0"/><circle cx="369.17" cy="425.09" r="3.0"/><circle cx="364.17" cy="421.53" r="3.0"/><circle cx="359.43" cy="417.66" r="3.0"/><circle cx="354.89" cy="413.51" r="3.0"/><circle cx="350.46" cy="409.08" r="3.0"/><circle cx="346.11" cy="404.39" r="3.0"/><circle cx="341.86" cy="399.47" r="3.0"/><circle cx="338.22" cy="394.38" r="3.0"/><circle cx="335.68" cy="389.15" r="3.0"/><circle cx="334.33" cy="383.86" r="3.0"/><circle cx="334.09" cy="378.56" r="3.0"/><circle cx="334.61" cy="373.27" r="3.0"/><circle cx="335.59" cy="368.03" r="3.0"/><circle cx="337.25" cy="362.87" r="3.0"/><circle cx="339.88" cy="357.81" r="3.0"/><circle cx="343.45" cy="352.91" r="3.0"/><circle cx="347.87" cy="348.25" r="3.0"/><circle cx="353.07" cy="343.89" r="3.0"/><circle cx="358.95" cy="339.89" r="3.0"/><circle cx="365.43" cy="336.32" r="3.0"/><circle cx="372.41" cy="333.24" r="3.0"/><circle cx="379.82" cy="330.71" r="3.0"/></g>
<g fill="none" stroke="#0000ff" stroke-width="1.2"><circle cx="382.7" cy="338.47" r="3.0"/><circle cx="391.95" cy="337.52" r="3.0"/><circle cx="401.02" cy="337.16" r="3.0"/><circle cx="409.88" cy="337.37" r="3.0"/><circle cx="418.5" cy="338.12" r="3.0"/><circle cx="426.84" cy="339.37" r="3.0"/><circle cx="434.88" cy="341.09" r="3.0"/><circle cx="442.59" cy="343.26" r="3.0"/><circle cx="449.93" cy="345.85" r="3.0"/><circle cx="456.87" cy="348.81" r="3.0"/><circle cx="463.38" cy="352.13" r="3.0"/><circle cx="469.44" cy="355.77" r="3.0"/><circle cx="475" cy="359.7" r="3.0"/><circle cx="480.05" cy="363.88" r="3.0"/><circle cx="484.54" cy="368.3" r="3.0"/><circle cx="488.45" cy="372.91" r="3.0"/><circle cx="491.74" cy="377.69" r="3.0"/><circle cx="494.39" cy="382.6" r="3.0"/><circle cx="496.37" cy="387.62" r="3.0"/><circle cx="497.68" cy="392.7" r="3.0"/><circle cx="498.33" cy="397.82" r="3.0"/><circle cx="498.33" cy="402.92" r="3.0"/><circle cx="497.67" cy="407.97" r="3.0"/><circle cx="496.38" cy="412.94" r="3.0"/><circle cx="494.45" cy="417.78" r="3.0"/><circle cx="491.9" cy="422.46" r="3.0"/><circle cx="488.73" cy="426.94" r="3.0"/><circle cx="484.99" cy="431.17" r="3.0"/><circle cx="480.71" cy="435.13" r="3.0"/><circle cx="475.95" cy="438.77" r="3.0"/><circle cx="470.74" cy="442.06" r="3.0"/><circle cx="465.13" cy="444.95" r="3.0"/><circle cx="459.16" cy="447.41" r="3.0"/><circle cx="452.87" cy="449.4" r="3.0"/><circle cx="446.32" cy="450.89" r="3.0"/><circle cx="439.55" cy="451.88" r="3.0"/><circle cx="432.62" cy="452.4" r="3.0"/><circle cx="425.6" cy="452.45" r="3.0"/><circle cx="418.53" cy="452.05" r="3.0"/><circle cx="411.48" cy="451.22" r="3.0"/><circle cx="404.51" cy="449.98" r="3.0"/><circle cx="397.66" cy="448.32" r="3.0"/><circle cx="391" cy="446.28" r="3.0"/><circle cx="384.58" cy="443.87" r="3.0"/><circle cx="378.47" cy="441.09" r="3.0"/><circle cx="372.72" cy="437.98" r="3.0"/><circle cx="367.39" cy="434.53" r="3.0"/><circle cx="362.53" cy="430.77" r="3.0"/><circle cx="358.2" cy="426.71" r="3.0"/><circle cx="354.47" cy="422.37" r="3.0"/><circle cx="351.37" cy="417.76" r="3.0"/><circle cx="348.93" cy="412.93" r="3.0"/><circle cx="347.16" cy="407.93" r="3.0"/><circle cx="346.06" cy="402.78" r="3.0"/><circle cx="345.66" cy="397.52" r="3.0"/><circle cx="345.95" cy="392.04" r="3.0"/><circle cx="346.96" cy="386.26" r="3.0"/><circle cx="348.68" cy="380.35" r="3.0"/><circle cx="351.12" cy="374.56" r="3.0"/><circle cx="354.21" cy="369.19" r="3.0"/><circle cx="357.85" cy="364.5" r="3.0"/><circle cx="361.98" cy="360.51" r="3.0"/><circle cx="366.5" cy="357.15" r="3.0"/><circle cx="371.33" cy="354.2" r="3.0"/><circle cx="376.39" cy="351.42" r="3.0"/><circle cx="381.59" cy="348.56" r="3.0"/></g>
<path d="M344.8 474.2v-2.6M344.8 281.2v2.6M392.53 474.2v-2.6M392.53 281.2v2.6M440.26 474.2v-2.6M440.26 281.2v2.6M487.99 474.2v-2.6M487.99 281.2v2.6M321.6 449.6h2.6M526.2 449.6h-2.6M321.6 408.6h2.6M526.2 408.6h-2.6M321.6 367.6h2.6M526.2 367.6h-2.6M321.6 326.6h2.6M526.2 326.6h-2.6M321.6 285.6h2.6M526.2 285.6h-2.6" stroke="#6f6f6f" stroke-width="1" fill="none"/>
<path d="M320.83 281.2H526.98M320.83 474.2H526.98" stroke="#6f6f6f" stroke-width="1.1" fill="none"/><path d="M321.6 280.65V474.75M526.2 280.65V474.75" stroke="#6f6f6f" stroke-width="1.55" fill="none"/>
<text transform="translate(344.8 488.8) scale(1 1.05)" text-anchor="middle" font-size="10">121.5337</text>
<text transform="translate(392.53 488.8) scale(1 1.05)" text-anchor="middle" font-size="10">121.5338</text>
<text transform="translate(440.26 488.8) scale(1 1.05)" text-anchor="middle" font-size="10">121.5339</text>
<text transform="translate(487.99 488.8) scale(1 1.05)" text-anchor="middle" font-size="10">121.534</text>
<text transform="translate(316.6 453.6) scale(1 1.05)" text-anchor="end" font-size="10">38.8655</text>
<text transform="translate(316.6 412.6) scale(1 1.05)" text-anchor="end" font-size="10">38.8656</text>
<text transform="translate(316.6 371.6) scale(1 1.05)" text-anchor="end" font-size="10">38.8657</text>
<text transform="translate(316.6 330.6) scale(1 1.05)" text-anchor="end" font-size="10">38.8658</text>
<text transform="translate(316.6 289.6) scale(1 1.05)" text-anchor="end" font-size="10">38.8659</text>
<text x="423.9" y="503.3" text-anchor="middle" font-size="11.15">(d) Longitude /<tspan font-family="DejaVu Sans" font-size="13.38" dy="0.33" stroke="none">&#8728;</tspan></text>
<text transform="translate(273.6 376.7) rotate(-90)" text-anchor="middle" font-size="11.25">Latitude /<tspan font-family="DejaVu Sans" font-size="13.5" dy="-0.67" stroke="none">&#8728;</tspan></text>
<rect x="48.4" y="15.4" width="159.3" height="14.9" fill="#fff" stroke="#5c5c5c" stroke-width="1"/>
<path d="M51.3 23.3H82" stroke="#ff0000" stroke-width="1.2" stroke-dasharray="6.4 3.3" fill="none"/>
<circle cx="66.65" cy="23.3" r="3.3" fill="none" stroke="#ff0000" stroke-width="1.3"/>
<text x="85" y="27" font-size="9.15">The headings with rudder 20<tspan font-family="DejaVu Sans" font-size="10.98" dy="-0.37" stroke="none">&#8728;</tspan></text>
<rect x="48.6" y="284.8" width="158.9" height="15.5" fill="#fff" stroke="#5c5c5c" stroke-width="1"/>
<path d="M51.1 292.5H82.2" stroke="#0000ff" stroke-width="1.2" stroke-dasharray="6.4 3.3" fill="none"/>
<path d="M63.35 292.5h6.6M66.65 289.2v6.6M64.27 290.12l4.75 4.75M64.27 294.88l4.75 -4.75" stroke="#0000ff" stroke-width="1.2" fill="none"/>
<text x="85" y="296.2" font-size="9.15">The headings with rudder 30<tspan font-family="DejaVu Sans" font-size="10.98" dy="-0.37" stroke="none">&#8728;</tspan></text>
<rect x="336.8" y="16.5" width="185.5" height="27.8" fill="#fff" stroke="#5c5c5c" stroke-width="1"/>
<circle cx="355.4" cy="24.7" r="3.3" fill="none" stroke="#ff0000" stroke-width="1.3"/>
<text x="373" y="28.4" font-size="9.15">Positions by Garmin with rudder 20<tspan font-family="DejaVu Sans" font-size="10.98" dy="-0.37" stroke="none">&#8728;</tspan></text>
<circle cx="355.4" cy="37.1" r="3.3" fill="none" stroke="#0000ff" stroke-width="1.3"/>
<text x="373" y="40.8" font-size="9.15">Positions by SDI with rudder 20<tspan font-family="DejaVu Sans" font-size="10.98" dy="-0.37" stroke="none">&#8728;</tspan></text>
<rect x="336.5" y="284.6" width="185.3" height="27.9" fill="#fff" stroke="#5c5c5c" stroke-width="1"/>
<circle cx="354.5" cy="292.7" r="3.3" fill="none" stroke="#ff0000" stroke-width="1.3"/>
<text x="373" y="296.4" font-size="9.15">Positions by Garmin with rudder 30<tspan font-family="DejaVu Sans" font-size="10.98" dy="-0.37" stroke="none">&#8728;</tspan></text>
<circle cx="354.5" cy="305.1" r="3.3" fill="none" stroke="#0000ff" stroke-width="1.3"/>
<text x="373" y="308.8" font-size="9.15">Positions by SDI with rudder 30<tspan font-family="DejaVu Sans" font-size="10.98" dy="-0.37" stroke="none">&#8728;</tspan></text>
</svg>
</body></html>
